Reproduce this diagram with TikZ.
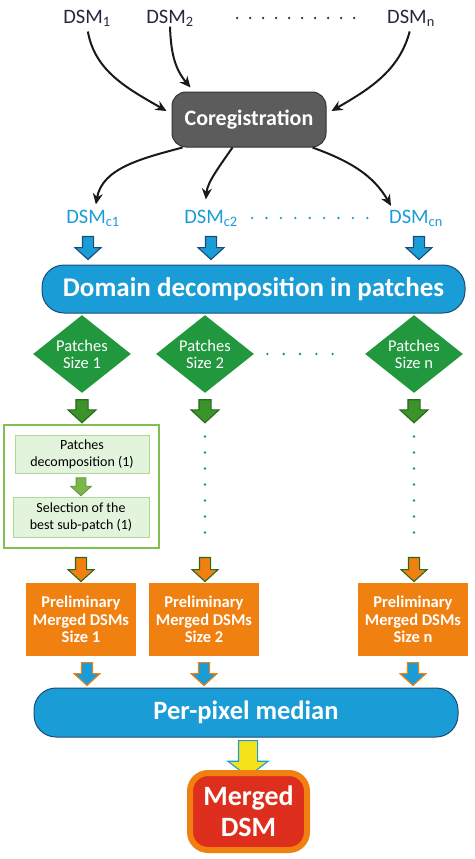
\documentclass[tikz,border=0pt]{standalone}
\usepackage{fontspec}
\setmainfont{Carlito}
\usepackage{tikz}
\usetikzlibrary{shapes.geometric,shapes.arrows,arrows.meta}
\definecolor{ink}{RGB}{38,38,62}
\definecolor{sky}{RGB}{26,156,215}
\definecolor{navy}{RGB}{28,76,118}
\definecolor{slate}{RGB}{92,92,92}
\definecolor{leaf}{RGB}{34,152,62}
\definecolor{moss}{RGB}{58,148,42}
\definecolor{mossdark}{RGB}{44,104,30}
\definecolor{lime}{RGB}{128,192,80}
\definecolor{mint}{RGB}{226,244,220}
\definecolor{mintline}{RGB}{172,218,150}
\definecolor{sprout}{RGB}{122,182,72}
\definecolor{amber}{RGB}{240,128,16}
\definecolor{lemon}{RGB}{244,226,26}
\definecolor{brick}{RGB}{222,46,30}
\tikzset{every path/.style={thick}}
\tikzset{
  dsm/.style={inner sep=0pt,text=ink,font=\fontsize{20.5}{22}\selectfont},
  dsmc/.style={inner sep=0pt,text=sky,font=\fontsize{20.5}{22}\selectfont},
  flow/.style={-{Stealth[length=11pt,width=10pt]},line width=2pt,black!90},
  bar/.style={fill=sky,draw=navy,line width=1pt,text=white,
    font=\bfseries\fontsize{27}{29}\selectfont,rounded corners=22pt},
  patch/.style={diamond,aspect=1.25,inner sep=0pt,fill=leaf,text=white,align=center,
    minimum width=98pt,minimum height=78pt,font=\fontsize{16.5}{17}\selectfont},
  sub/.style={fill=mint,draw=mintline,line width=1pt,align=center,
    font=\fontsize{14}{17}\selectfont},
  prelim/.style={fill=amber,text=white,align=center,minimum width=110pt,minimum height=73pt,
    font=\bfseries\fontsize{16.5}{17.5}\selectfont},
  drop/.style={single arrow,rotate=-90,inner xsep=0pt,inner ysep=5pt,line width=1.1pt,
    minimum height=23pt,single arrow head extend=7.5pt,single arrow tip angle=95},
  dots/.style={line width=2.6pt,line cap=round}
}

\begin{document}
\begin{tikzpicture}[x=1pt,y=1pt]
\useasboundingbox (0,0) rectangle (474,-859);

% inputs
\node[dsm] (d1) at (87,-18) {DSM\textsubscript{1}};
\node[dsm] (d2) at (170,-18) {DSM\textsubscript{2}};
\node[dsm] (dn) at (411,-18) {DSM\textsubscript{n}};
\draw[dots,ink,dash pattern=on 0pt off 13pt,shorten <=43pt,shorten >=20pt] (d2.east) -- (dn.west);

\node[fill=slate,draw=black!80,line width=1pt,rounded corners=14pt,minimum width=154pt,
  minimum height=55pt,text=white,font=\bfseries\fontsize{22}{24}\selectfont] (coreg) at (249,-119.5) {Coregistration};

\draw[flow,shorten <=5pt] (d1.south) to[out=-80,in=150] ([xshift=-5pt,yshift=8.5pt]coreg.west);
\draw[flow] (d2.south) to[out=-88,in=130] ([xshift=19pt,yshift=4pt]coreg.north west);
\draw[flow,shorten <=5pt] (dn.south) to[out=-105,in=30] ([xshift=5pt,yshift=8.5pt]coreg.east);

% coregistered
\node[dsmc] (dc1) at (93,-218) {DSM\textsubscript{c1}};
\node[dsmc] (dc2) at (211,-218) {DSM\textsubscript{c2}};
\node[dsmc] (dcn) at (416,-218) {DSM\textsubscript{cn}};
\draw[dots,sky,dash pattern=on 0pt off 14.4pt,shorten <=14pt,shorten >=21pt] (dc2.east) -- (dcn.west);

\draw[flow,shorten >=5pt] ([xshift=11pt]coreg.south west) to[out=195,in=80] ([xshift=2pt]dc1.north);
\draw[flow,shorten >=10pt] ([xshift=61pt]coreg.south west) to[out=-125,in=85] ([xshift=-6pt]dc2.north);
\draw[flow,shorten >=4pt] ([xshift=-14pt]coreg.south east) to[out=-20,in=120] ([xshift=-23pt]dcn.north);

\node[drop,fill=sky,draw=navy] (ba1) at (88,-245.5) {};
\node[drop,fill=sky,draw=navy] (ba2) at (211,-245.5) {};
\node[drop,fill=sky,draw=navy] (ban) at (419,-245.5) {};

% patches
\node[bar,minimum width=423pt,minimum height=48pt] (ddp) at (253.5,-289) {Domain decomposition in patches};

\node[patch] (p1) at (82,-354) {Patches\\Size 1};
\node[patch] (p2) at (205,-354) {Patches\\Size 2};
\node[patch] (pn) at (414,-354) {Patches\\Size n};
\draw[dots,leaf,dash pattern=on 0pt off 16.3pt,shorten <=13pt,shorten >=16pt] (p2.east) -- (pn.west);

\node[drop,fill=moss,draw=mossdark,inner ysep=5.5pt,single arrow head extend=8pt] (ga1) at (82,-408.5) {};
\node[drop,fill=moss,draw=mossdark,inner ysep=5.5pt,single arrow head extend=8pt] (ga2) at (205,-408.5) {};
\node[drop,fill=moss,draw=mossdark,inner ysep=5.5pt,single arrow head extend=8pt] (gan) at (414,-408.5) {};

% size 1 detail
\node[draw=lime,fill=white,line width=1.3pt,minimum width=155pt,minimum height=123pt] (grp) at (81.5,-486.5) {};
\node[sub,minimum width=134pt,minimum height=38pt] (pd) at (82,-454) {Patches\\decomposition (1)};
\node[drop,fill=sprout,draw=sprout!80!black,line width=0.8pt,inner ysep=4.5pt,minimum height=18pt,
  single arrow head extend=5.5pt] (la) at (81,-484.5) {};
\node[sub,minimum width=136pt,minimum height=40pt] (sb) at (81,-517) {Selection of the\\best sub-patch (1)};

\node[drop,fill=amber,draw=mossdark,minimum height=24pt] (oa1) at (81,-567) {};
\node[drop,fill=amber,draw=mossdark,minimum height=24pt] (oa2) at (205,-567) {};
\node[drop,fill=amber,draw=mossdark,minimum height=24pt] (oan) at (414,-567) {};
\draw[dots,leaf,dash pattern=on 0pt off 16pt,shorten <=13pt,shorten >=10pt] (ga2.east) -- (oa2.west);
\draw[dots,leaf,dash pattern=on 0pt off 16pt,shorten <=13pt,shorten >=10pt] (gan.east) -- (oan.west);

% preliminary results
\node[prelim] (m1) at (81,-619.5) {Preliminary\\Merged DSMs\\Size 1};
\node[prelim] (m2) at (204,-619.5) {Preliminary\\Merged DSMs\\Size 2};
\node[prelim] (mn) at (413,-619.5) {Preliminary\\Merged DSMs\\Size n};

\node[drop,fill=sky,draw=amber] (bo1) at (87,-671.5) {};
\node[drop,fill=sky,draw=amber] (bo2) at (204,-671.5) {};
\node[drop,fill=sky,draw=amber] (bon) at (413,-671.5) {};

\node[bar,minimum width=424pt,minimum height=49pt,font=\bfseries\fontsize{26.5}{28}\selectfont] (ppm) at (246,-712.5) {Per-pixel median};

\node[drop,fill=lemon,draw=sky,minimum height=36pt,inner ysep=9pt,single arrow head extend=10.5pt,
  single arrow tip angle=105] (ya) at (248,-755) {};

\node[fill=brick,draw=amber,line width=6pt,rounded corners=18pt,minimum width=117pt,minimum height=77pt,
  text=white,align=center,font=\bfseries\fontsize{28}{31}\selectfont] (mg) at (248.5,-811.5) {Merged\\DSM};
\end{tikzpicture}
\end{document}
